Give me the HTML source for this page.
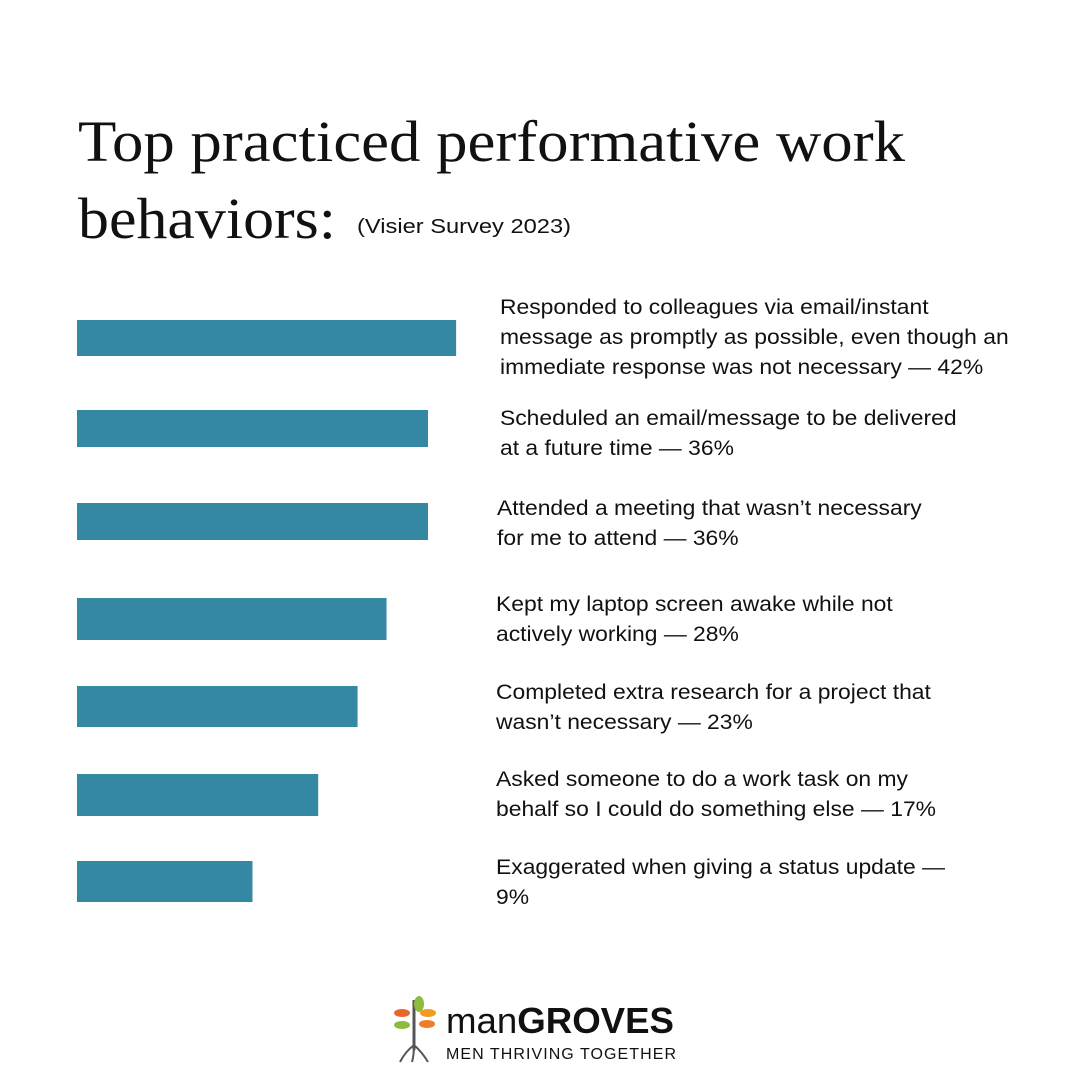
<!DOCTYPE html>
<html><head><meta charset="utf-8"><style>
html,body{margin:0;padding:0;background:#fff}
svg{display:block}
.lbl{font-family:"Liberation Sans",sans-serif;font-size:21px;fill:#111}
</style></head><body>
<svg id="chart" width="1080" height="1080" viewBox="0 0 1080 1080" xmlns="http://www.w3.org/2000/svg">
<rect width="1080" height="1080" fill="#fff"/>
<text x="78" y="161" font-family="Liberation Serif, serif" font-size="58" fill="#111" textLength="827" lengthAdjust="spacingAndGlyphs">Top practiced performative work</text>
<text x="78" y="238" font-family="Liberation Serif, serif" font-size="58" fill="#111" textLength="258" lengthAdjust="spacingAndGlyphs">behaviors:</text>
<text x="357" y="233" font-family="Liberation Sans, sans-serif" font-size="20" fill="#111" textLength="214" lengthAdjust="spacingAndGlyphs">(Visier Survey 2023)</text>
<g id="bars"></g>
<g id="labels"></g>
<g>
<g>
<line x1="414" y1="1000" x2="414" y2="1050" stroke="#555" stroke-width="3"/>
<path d="M414 1045 Q405 1052 400 1062 M414 1045 Q414 1055 412 1062 M414 1045 Q422 1052 428 1062" stroke="#555" stroke-width="2" fill="none"/>
<ellipse cx="419" cy="1004" rx="5" ry="8" fill="#8dbb3e"/>
<ellipse cx="402" cy="1013" rx="8" ry="4" fill="#e8672a"/>
<ellipse cx="428" cy="1013" rx="8" ry="4" fill="#f29b22"/>
<ellipse cx="402" cy="1025" rx="8" ry="4" fill="#8dbb3e"/>
<ellipse cx="427" cy="1024" rx="8" ry="4" fill="#ef7c2a"/>
</g>
<text x="446" y="1033" font-family="Liberation Sans, sans-serif" font-size="36" fill="#111" textLength="228" lengthAdjust="spacingAndGlyphs"><tspan font-weight="300">man</tspan><tspan font-weight="bold">GROVES</tspan></text>
<text x="446" y="1059" font-family="Liberation Sans, sans-serif" font-size="16" fill="#111" textLength="230" lengthAdjust="spacing">MEN THRIVING TOGETHER</text>
</g>
</svg>
<script>
const categories = [
 ["Responded to colleagues via email/instant","message as promptly as possible, even though an","immediate response was not necessary — 42%"],
 ["Scheduled an email/message to be delivered","at a future time — 36%"],
 ["Attended a meeting that wasn’t necessary","for me to attend — 36%"],
 ["Kept my laptop screen awake while not","actively working — 28%"],
 ["Completed extra research for a project that","wasn’t necessary — 23%"],
 ["Asked someone to do a work task on my","behalf so I could do something else — 17%"],
 ["Exaggerated when giving a status update —","9%"]
];
const values = [42, 36, 36, 28, 23, 17, 9];
const barTops = [320, 410, 503, 598, 686, 774, 861];
const barHeights = [36, 37, 37, 42, 41, 42, 41];
const labelTops = [314, 425, 515, 611, 699, 786, 874];
const labelX = [500, 500, 497, 496, 496, 496, 496];
const x0 = 77;
function xScale(v){ return 58.5 * Math.sqrt(v); }
const NS = "http://www.w3.org/2000/svg";
const bg = document.getElementById('bars');
const lg = document.getElementById('labels');
values.forEach((v,i)=>{
  const r = document.createElementNS(NS,'rect');
  r.setAttribute('x', x0);
  r.setAttribute('y', barTops[i]);
  r.setAttribute('width', xScale(v));
  r.setAttribute('height', barHeights[i]);
  r.setAttribute('fill', '#3588a2');
  
  
  bg.appendChild(r);
  const t = document.createElementNS(NS,'text');
  t.setAttribute('class','lbl');
  t.setAttribute('transform', 'translate(' + labelX[i] + ',0) scale(1.09,1) translate(' + (-labelX[i]) + ',0)');
  
  
  categories[i].forEach((line,j)=>{
    const s = document.createElementNS(NS,'tspan');
    s.setAttribute('x', labelX[i]);
    s.setAttribute('y', labelTops[i] + j*30);
    s.textContent = line;
    t.appendChild(s);
  });
  lg.appendChild(t);
});
</script>
</body></html>
